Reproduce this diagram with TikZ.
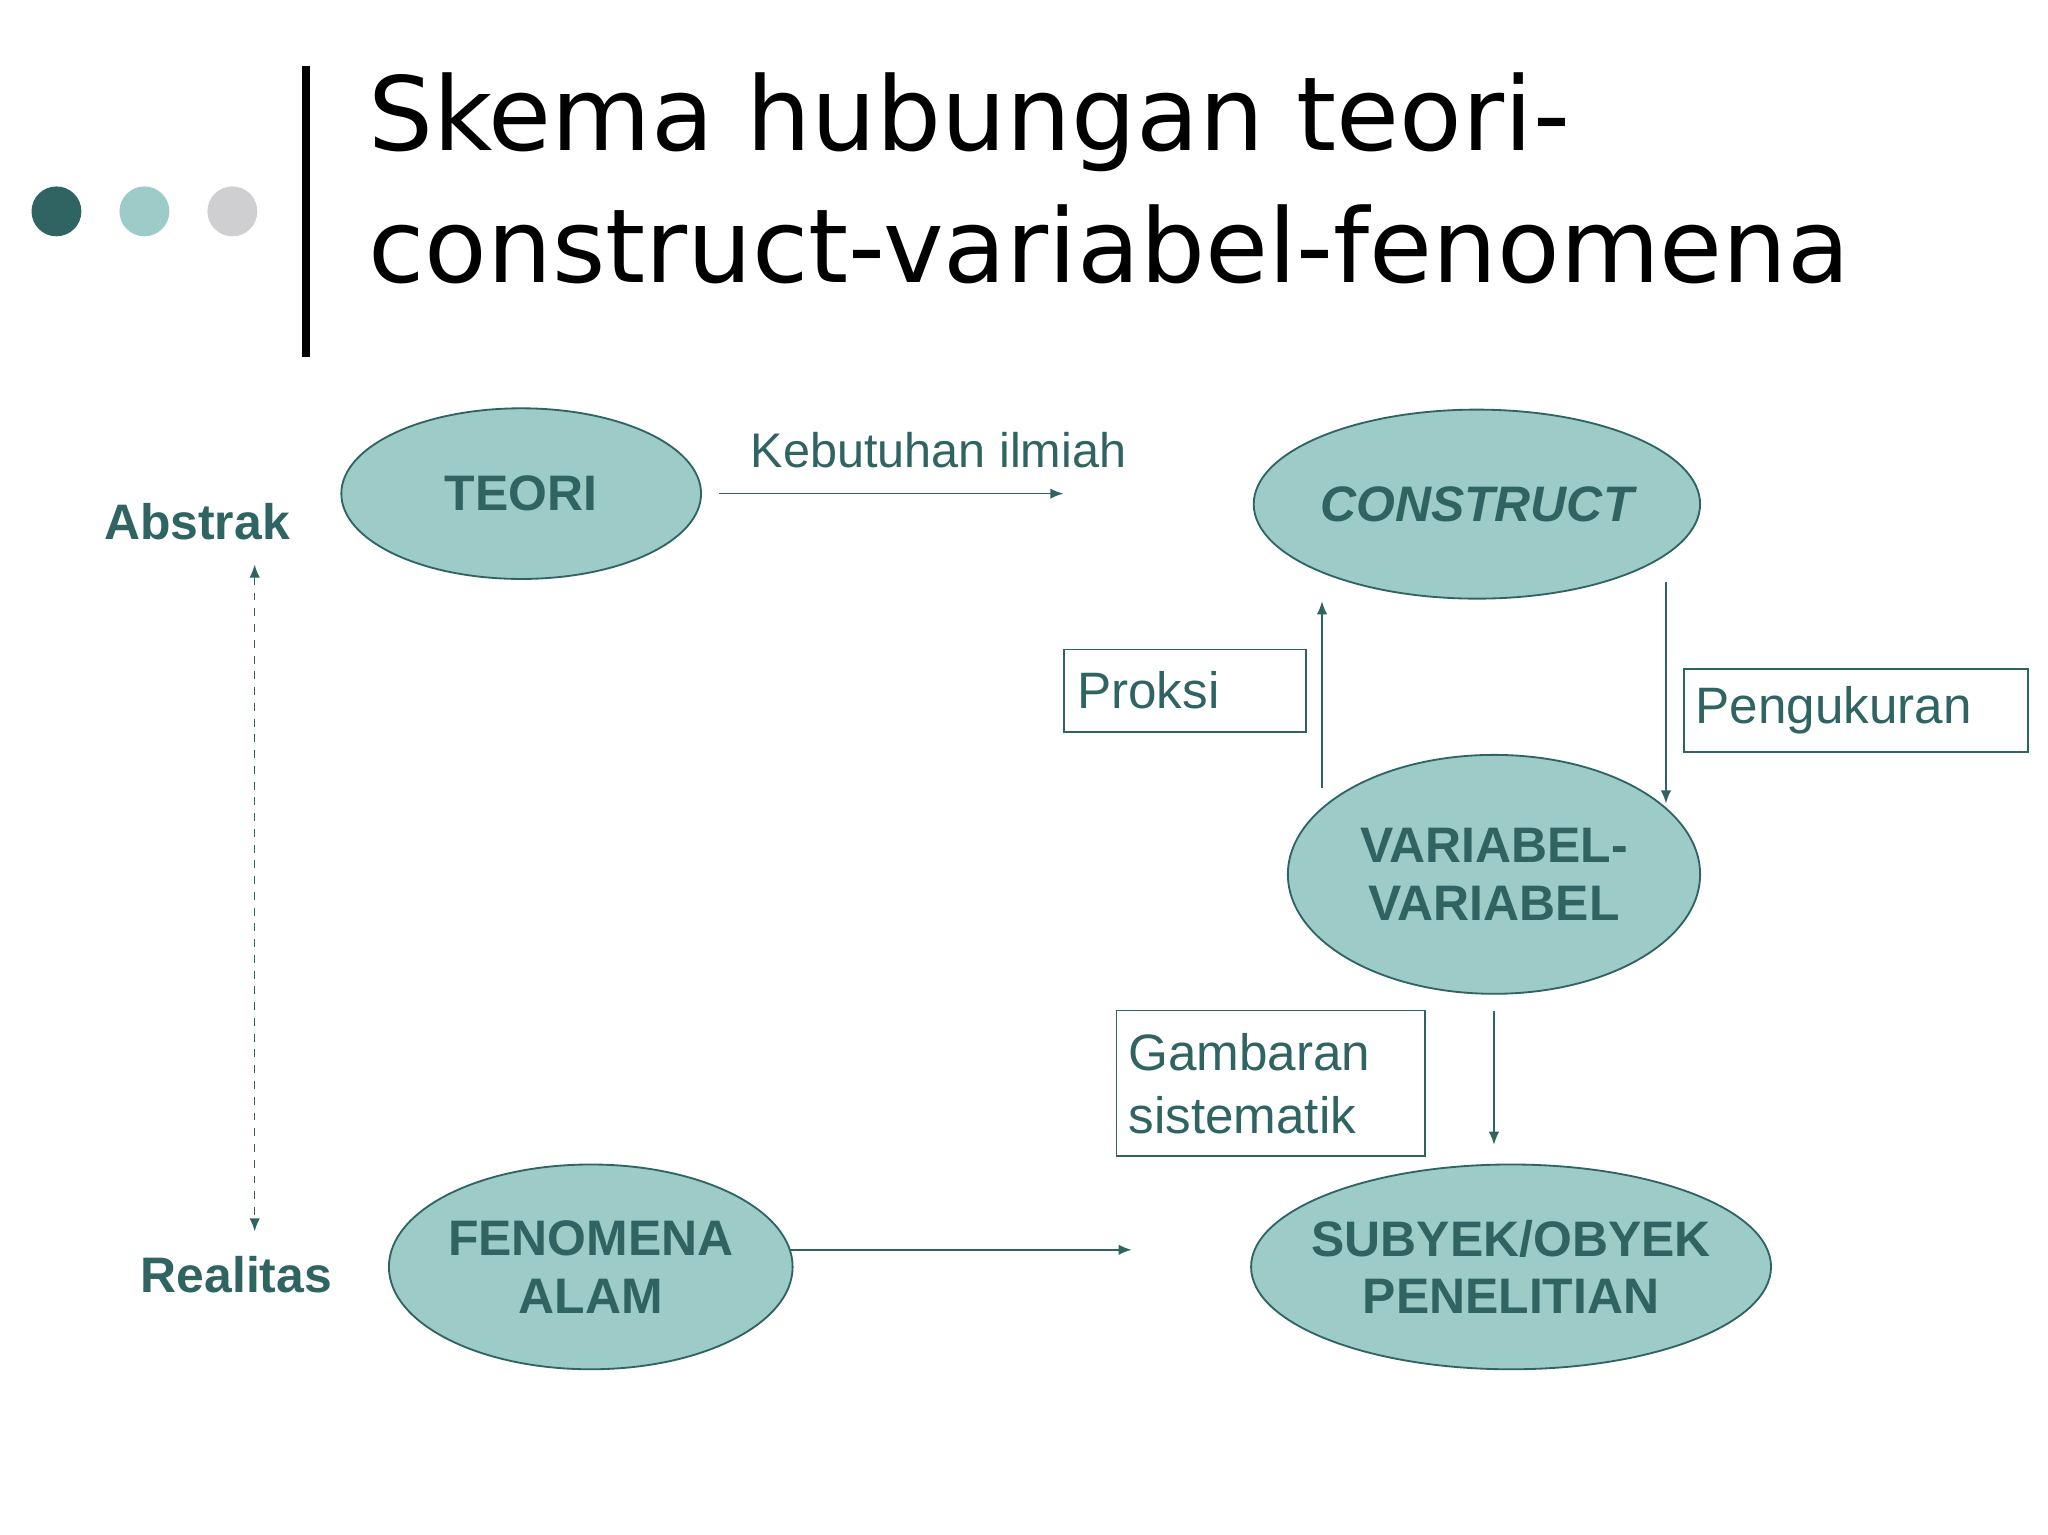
\documentclass[tikz,border=0pt]{standalone}
\usepackage{fontspec}
\setmainfont{Liberation Sans}
\newfontfamily\titlefont{DejaVu Sans}
\usetikzlibrary{arrows.meta,shapes.geometric}
\definecolor{dteal}{HTML}{2F6462}
\definecolor{lteal}{HTML}{9CCBC8}
\definecolor{lgray}{HTML}{CFCFD1}
\begin{document}
\begin{tikzpicture}[x=0.5pt,y=-0.5pt,
 ell/.style={ellipse,draw=dteal,fill=lteal,line width=0.7pt,text=dteal,font=\fontsize{19}{22}\selectfont\bfseries,align=center,inner sep=0},
 lab/.style={text=dteal,font=\fontsize{18.5}{23}\selectfont,align=left},
 boxlab/.style={lab,draw=dteal,line width=0.6pt,anchor=north west,inner sep=0},
 arr/.style={draw=dteal,line width=0.6pt,-{Latex[length=5pt,width=4pt]}}]
\useasboundingbox (0,0) rectangle (1560,1169);
\fill[white] (0,0) rectangle (1560,1169);
\fill[dteal] (43,161) circle (19);
\fill[lteal] (110,161) circle (19);
\fill[lgray] (177,161) circle (19);
\draw[line width=3pt] (233,50) -- (233,272);
\node[anchor=base west,inner sep=0,font=\titlefont\fontsize{39}{50}\selectfont] (t1) at (280,115) {Skema hubungan teori-};
\node[anchor=base west,inner sep=0,font=\titlefont\fontsize{39}{50}\selectfont] (t2) at (280,215) {construct-variabel-fenomena};
\node[ell,minimum width=137pt,minimum height=65pt] (teori) at (397,376) {TEORI};
\node[ell,minimum width=170pt,minimum height=72pt] (cons) at (1125,384) {\itshape CONSTRUCT};
\node[ell,minimum width=157pt,minimum height=91pt] (var) at (1138,666) {VARIABEL-\\VARIABEL};
\node[ell,minimum width=150pt,minimum height=78pt] (fen) at (450,965) {FENOMENA\\ALAM};
\node[ell,minimum width=196pt,minimum height=78pt,inner xsep=-6pt] (sub) at (1151,965) {SUBYEK/OBYEK\\PENELITIAN};
\node[text=dteal,font=\fontsize{19}{22}\selectfont\bfseries] (abs) at (150,397) {Abstrak};
\node[text=dteal,font=\fontsize{19}{22}\selectfont\bfseries] (rea) at (180,971) {Realitas};
\coordinate (d1) at (194,430); \coordinate (d2) at (194,938);
\draw[draw=dteal,line width=0.6pt,dashed,{Latex[length=5pt,width=4pt]}-{Latex[length=5pt,width=4pt]}] (d1) -- (d2);
\node[lab] (keb) at (715,343) {Kebutuhan ilmiah};
\coordinate (k1) at (548,376); \coordinate (k2) at (810,376);
\draw[arr] (k1) -- (k2);
\node[boxlab,font=\fontsize{19.5}{24}\selectfont,minimum width=92pt,minimum height=31.5pt,text width=82pt,inner xsep=5pt] (prok) at (810,494) {Proksi};
\coordinate (p1) at (1007,600); \coordinate (p2) at (1007,458);
\draw[arr] (p1) -- (p2);
\node[boxlab,font=\fontsize{19.5}{24}\selectfont,minimum width=131pt,minimum height=31.5pt,text width=122pt,inner xsep=4.5pt] (peng) at (1282,509) {Pengukuran};
\coordinate (g1) at (1269,443); \coordinate (g2) at (1269,612);
\draw[arr] (g1) -- (g2);
\node[boxlab,font=\fontsize{19.5}{24}\selectfont,minimum width=117.5pt,minimum height=55.5pt,text width=108.5pt,inner xsep=4.5pt] (gam) at (850,769) {Gambaran\\sistematik};
\coordinate (s1) at (1138,770); \coordinate (s2) at (1138,872);
\draw[arr] (s1) -- (s2);
\coordinate (f1) at (601,952); \coordinate (f2) at (862,952);
\draw[arr] (f1) -- (f2);
\end{tikzpicture}
\end{document}
